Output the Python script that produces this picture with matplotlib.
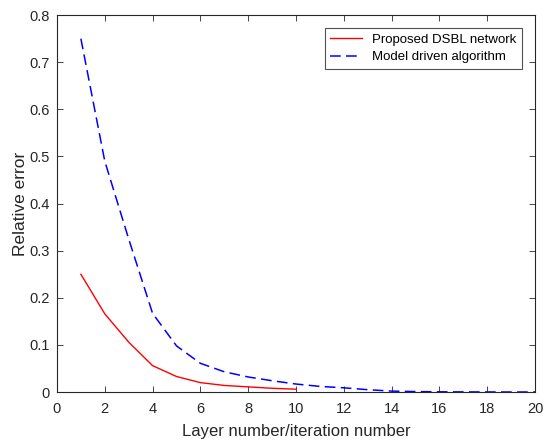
import matplotlib.pyplot as plt
import numpy as np

plt.rcParams['font.family'] = ['Liberation Sans', 'DejaVu Sans']

# Dados
camadas_dsbl = [1, 2, 3, 4, 5, 6, 7, 8, 9, 10]
erro_dsbl = [0.25, 0.166, 0.106, 0.056, 0.033, 0.020, 0.014, 0.011, 0.008, 0.006]

iteracoes_modelo = [1, 2, 3, 4, 5, 6, 7, 8, 9, 10, 11, 12, 13, 14, 15, 16, 17, 18, 19, 20]
erro_modelo = [0.75, 0.49, 0.325, 0.167, 0.098, 0.061, 0.043, 0.032, 0.024, 0.017,
               0.012, 0.009, 0.005, 0.002, 0.001, 0.0005, 0.0003, 0.0002, 0.0001, 0.0001]

fig = plt.figure(figsize=(5.5, 4.45), dpi=100)
ax = fig.add_axes([0.1036, 0.119, 0.8691, 0.847])

ax.plot(camadas_dsbl, erro_dsbl, color='red', linewidth=1.0, label='Proposed DSBL network')
ax.plot(iteracoes_modelo, erro_modelo, color='blue', linewidth=1.1, linestyle=(0, (7, 3.5)),
        label='Model driven algorithm')

ax.set_xlim(0, 20)
ax.set_ylim(0, 0.8)
ax.set_xticks(np.arange(0, 21, 2))
ax.set_yticks(np.arange(0, 0.81, 0.1))
ax.set_yticklabels(['0', '0.1', '0.2', '0.3', '0.4', '0.5', '0.6', '0.7', '0.8'])
ax.tick_params(direction='in', length=4, width=0.6, labelsize=10.5, top=True, right=True,
               labeltop=False, labelright=False, colors='#262626')
ax.tick_params(axis='x', pad=7)
ax.tick_params(axis='y', pad=5)
for lado in ax.spines.values():
    lado.set_linewidth(0.8)
    lado.set_color('#262626')

ax.set_xlabel('Layer number/iteration number', fontsize=12, color='#262626', labelpad=6)
ax.set_ylabel('Relative error', fontsize=12.5, color='#262626', labelpad=1)

leg = ax.legend(loc='upper right', fontsize=9.5, frameon=True, fancybox=False,
                edgecolor='#262626', borderaxespad=1.0, handlelength=2.4,
                labelspacing=0.4, borderpad=0.4)
leg.get_frame().set_linewidth(0.8)

fig.savefig('out.png', dpi=100)
